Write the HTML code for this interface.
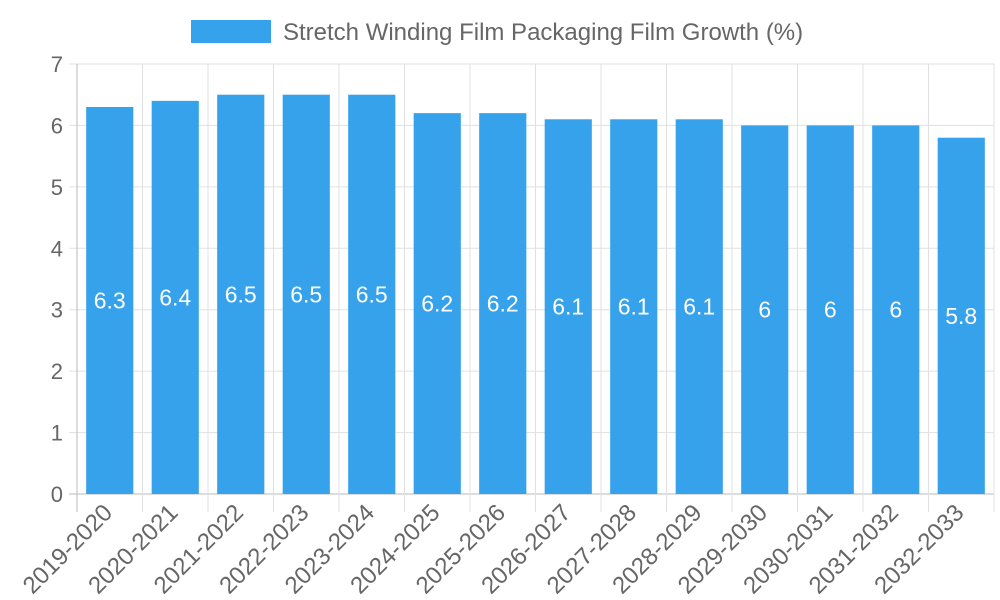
<!DOCTYPE html>
<html><head><meta charset="utf-8"><style>
body{margin:0;background:#fff;}
svg{display:block;font-family:"Liberation Sans",sans-serif;}
</style></head><body>
<svg id="chart" width="1000" height="600">
<g>
<rect x="191" y="20" width="80" height="23" fill="#36a2eb"/>
<text x="283" y="40" font-size="24" fill="#666">Stretch Winding Film Packaging Film Growth (%)</text>
</g>
<g id="grid"></g><g id="bars"></g><g id="labels"></g>
</svg>
<script>
const categories=["2019-2020","2020-2021","2021-2022","2022-2023","2023-2024","2024-2025","2025-2026","2026-2027","2027-2028","2028-2029","2029-2030","2030-2031","2031-2032","2032-2033"];
const values=[6.3,6.4,6.5,6.5,6.5,6.2,6.2,6.1,6.1,6.1,6,6,6,5.8];
const yTicks=[0,1,2,3,4,5,6,7];
const NS="http://www.w3.org/2000/svg";
const L=77,R=994,T=64,B=494,yMax=7;
const bw=(R-L)/categories.length;
function y(v){return B-(v/yMax)*(B-T);}
function x(i){return L+i*bw;}
function mk(tag,attrs,parent,txt){const e=document.createElementNS(NS,tag);for(const k in attrs)e.setAttribute(k,attrs[k]);if(txt!==undefined)e.textContent=txt;parent.appendChild(e);return e;}
const grid=document.getElementById('grid'),bars=document.getElementById('bars'),labels=document.getElementById('labels');
yTicks.forEach(t=>{
  const g=mk('line',{x1:L-8,x2:R,y1:y(t),y2:y(t),stroke:t===0?'#bbb':'#e0e0e0','stroke-width':1},grid);
  
  
  const tx=mk('text',{x:L-14,y:y(t)+8,'text-anchor':'end','font-size':22,fill:'#666'},grid,String(t));
  
  
});
for(let i=0;i<=categories.length;i++){
  const g=mk('line',{x1:x(i),x2:x(i),y1:T,y2:B+18,stroke:i===0?'#bbb':'#e0e0e0','stroke-width':1},grid);
  
  
}
categories.forEach((c,i)=>{
  const cx=x(i)+bw/2,w=bw*0.72;
  const r=mk('rect',{x:cx-w/2,y:y(values[i]),width:w,height:B-y(values[i]),fill:'#36a2eb'},bars);
  
  
  const v=mk('text',{x:cx,y:(y(values[i])+B)/2+8,'text-anchor':'middle','font-size':23,fill:'#fff'},labels,String(values[i]));
  
  
  const ax=cx+4,ay=B+20;
  const xl=mk('text',{x:ax,y:ay,'text-anchor':'end','font-size':24,fill:'#666',transform:`rotate(-45 ${ax} ${ay})`},labels,c);
  
  
});
</script>
</body></html>
